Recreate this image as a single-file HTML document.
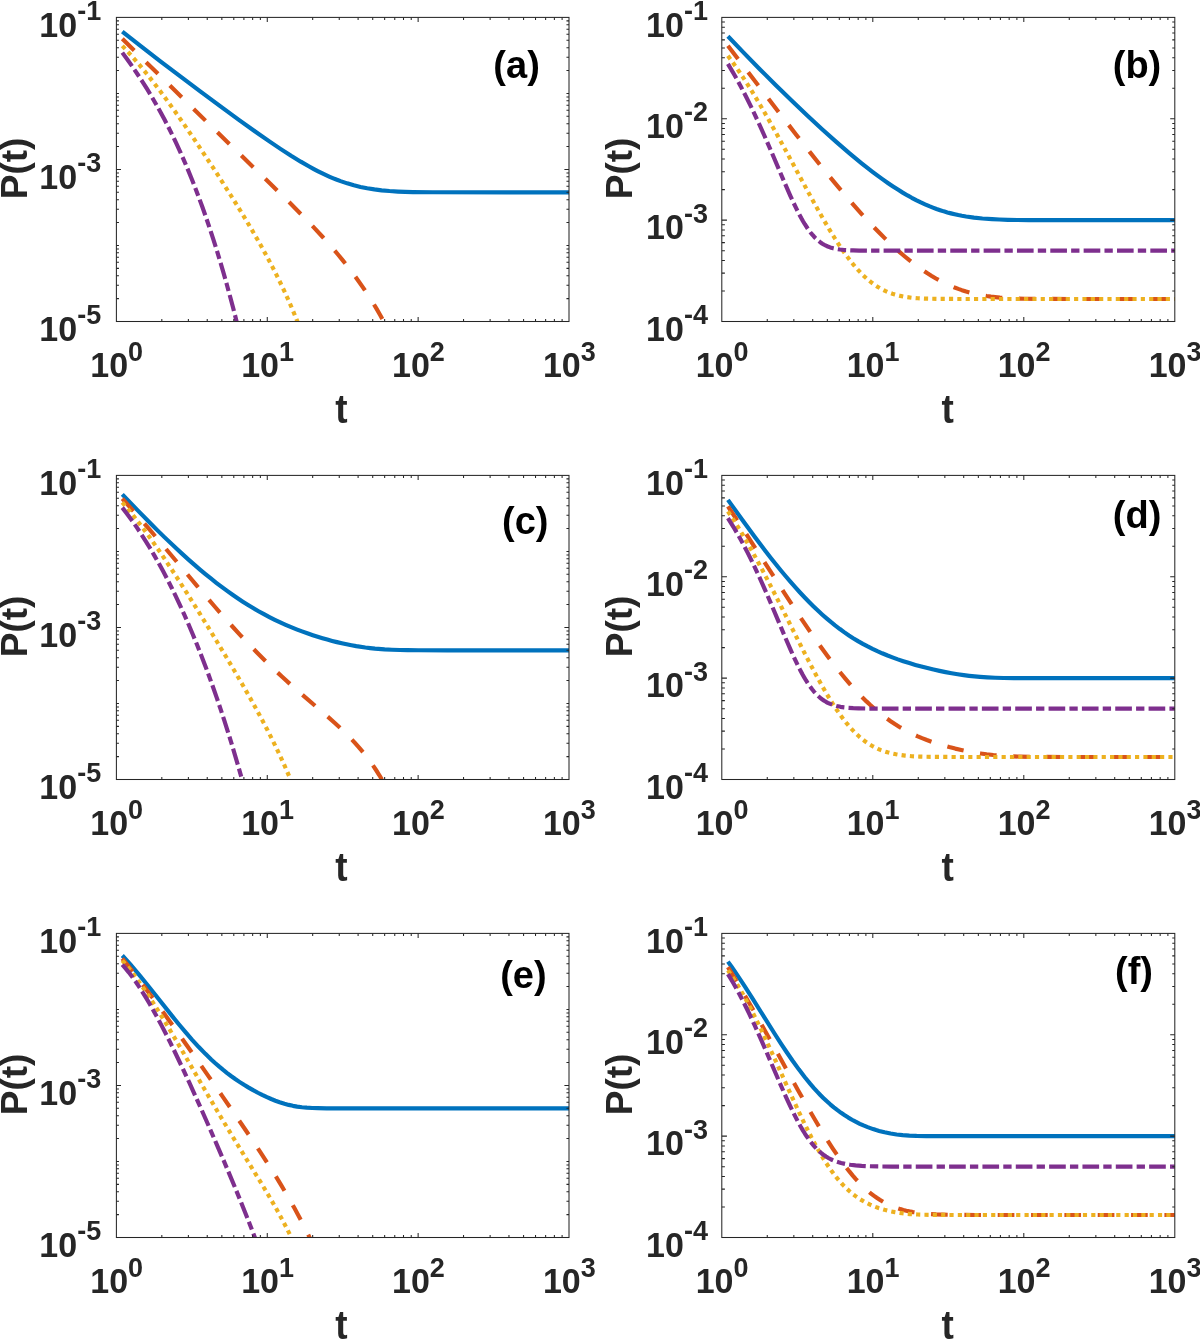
<!DOCTYPE html>
<html lang="en"><head><meta charset="utf-8"><title>P(t)</title>
<style>html,body{margin:0;padding:0;background:#fff}svg{display:block}text{font-family:"Liberation Sans",Arial,Helvetica,sans-serif;font-weight:bold;fill:#262626}.tk{font-size:34px}.sp{font-size:27px}.lb{font-size:37px}.pn{font-size:38px;fill:#000}.ax{stroke:#262626;stroke-width:1.04;fill:none}.cv{fill:none;stroke-width:4.17;stroke-linejoin:round}</style></head><body>
<svg width="1200" height="1339" viewBox="0 0 1200 1339">
<rect width="1200" height="1339" fill="#fff"/>
<defs>
<clipPath id="c00"><rect x="116.4" y="17.4" width="453.1" height="304.6"/></clipPath>
<clipPath id="c01"><rect x="721.8" y="17.4" width="453.5" height="304.6"/></clipPath>
<clipPath id="c10"><rect x="116.4" y="475.4" width="453.1" height="304.6"/></clipPath>
<clipPath id="c11"><rect x="721.8" y="475.4" width="453.5" height="304.6"/></clipPath>
<clipPath id="c20"><rect x="116.4" y="933.4" width="453.1" height="304.6"/></clipPath>
<clipPath id="c21"><rect x="721.8" y="933.4" width="453.5" height="304.6"/></clipPath>
</defs>
<g clip-path="url(#c00)">
<path class="cv" d="M122.3 31.64L141.44 46.64L160.75 61.55L180.67 76.71L200.58 91.67L220.5 106.43L239.21 120.08L255.5 131.72L269.38 141.39L280.84 149.11L291.1 155.74L300.76 161.66L309.21 166.53L313.43 168.84L317.66 171.05L321.88 173.16L325.5 174.88L329.73 176.78L333.35 178.32L336.97 179.77L340.59 181.12L347.23 183.36L353.86 185.3L360.5 186.92L367.14 188.27L374.38 189.43L381.62 190.33L389.47 191.04L397.92 191.56L405.16 191.86L413 192.07L432.92 192.28L569 192.34" stroke="#0072BD"/>
<path class="cv" d="M122.3 38.82L143.25 59.34L207.22 122.31L229.55 144.1L270.59 183.94L289.29 202.34L301.97 215.11L312.83 226.38L322.48 236.78L331.54 246.95L337.57 254.02L343 260.62L348.43 267.48L353.26 273.82L358.09 280.43L362.92 287.34L367.74 294.58L371.97 301.21L376.19 308.16L380.42 315.44L384.64 323.11L388.26 330L391.88 337.22L395.5 344.78L397.92 350.04L403.35 362.19" stroke="#D95319" stroke-dasharray="16.67 16.67"/>
<path class="cv" d="M122.3 45.84L128.17 52.06L134.2 58.8L140.24 65.85L146.88 73.96L153.51 82.38L160.15 91.1L167.39 100.9L175.24 111.82L183.69 123.88L192.74 137.09L202.39 151.47L212.05 166.11L221.7 181.02L230.76 195.25L239.21 208.81L247.05 221.72L252.48 230.89L257.91 240.29L262.74 248.87L267.57 257.71L272.4 266.86L276.62 275.16L280.84 283.78L284.47 291.44L288.09 299.41L291.71 307.7L295.33 316.36L298.95 325.42L301.97 333.32L304.98 341.56L308 350.17L312.22 362.61" stroke="#EDB120" stroke-dasharray="4.17 4.17"/>
<path class="cv" d="M122.3 52.63L127.56 59.83L132.39 66.66L137.22 73.74L142.05 81.08L146.88 88.73L151.1 95.68L155.93 103.94L160.15 111.48L164.38 119.33L168.6 127.51L172.82 136.02L176.44 143.62L180.67 152.83L184.29 161.05L187.91 169.58L191.53 178.43L195.15 187.62L198.77 197.16L202.39 207.07L206.01 217.36L209.64 228.04L213.26 239.13L216.88 250.64L219.89 260.56L223.52 272.89L226.53 283.51L230.15 296.7L233.17 308.06L236.79 322.16L239.81 334.3L246.45 362.19" stroke="#7E2F8E" stroke-dasharray="16.67 4.17 8.33 4.17"/>
</g>
<path class="ax" d="M161.82 321.5v-2.55M161.82 17.4v2.55M188.38 321.5v-2.55M188.38 17.4v2.55M207.23 321.5v-2.55M207.23 17.4v2.55M221.85 321.5v-2.55M221.85 17.4v2.55M233.8 321.5v-2.55M233.8 17.4v2.55M243.9 321.5v-2.55M243.9 17.4v2.55M252.65 321.5v-2.55M252.65 17.4v2.55M260.36 321.5v-2.55M260.36 17.4v2.55M267.27 321.5v-4.6M267.27 17.4v4.6M312.68 321.5v-2.55M312.68 17.4v2.55M339.25 321.5v-2.55M339.25 17.4v2.55M358.1 321.5v-2.55M358.1 17.4v2.55M372.72 321.5v-2.55M372.72 17.4v2.55M384.66 321.5v-2.55M384.66 17.4v2.55M394.76 321.5v-2.55M394.76 17.4v2.55M403.51 321.5v-2.55M403.51 17.4v2.55M411.23 321.5v-2.55M411.23 17.4v2.55M418.13 321.5v-4.6M418.13 17.4v4.6M463.55 321.5v-2.55M463.55 17.4v2.55M490.12 321.5v-2.55M490.12 17.4v2.55M508.96 321.5v-2.55M508.96 17.4v2.55M523.58 321.5v-2.55M523.58 17.4v2.55M535.53 321.5v-2.55M535.53 17.4v2.55M545.63 321.5v-2.55M545.63 17.4v2.55M554.38 321.5v-2.55M554.38 17.4v2.55M562.1 321.5v-2.55M562.1 17.4v2.55M116.4 298.61h2.55M569 298.61h-2.55M116.4 285.23h2.55M569 285.23h-2.55M116.4 275.73h2.55M569 275.73h-2.55M116.4 268.36h2.55M569 268.36h-2.55M116.4 262.34h2.55M569 262.34h-2.55M116.4 257.25h2.55M569 257.25h-2.55M116.4 252.84h2.55M569 252.84h-2.55M116.4 248.95h2.55M569 248.95h-2.55M116.4 245.48h2.55M569 245.48h-2.55M116.4 222.59h2.55M569 222.59h-2.55M116.4 209.2h2.55M569 209.2h-2.55M116.4 199.7h2.55M569 199.7h-2.55M116.4 192.34h2.55M569 192.34h-2.55M116.4 186.32h2.55M569 186.32h-2.55M116.4 181.23h2.55M569 181.23h-2.55M116.4 176.82h2.55M569 176.82h-2.55M116.4 172.93h2.55M569 172.93h-2.55M116.4 169.45h4.6M569 169.45h-4.6M116.4 146.56h2.55M569 146.56h-2.55M116.4 133.18h2.55M569 133.18h-2.55M116.4 123.68h2.55M569 123.68h-2.55M116.4 116.31h2.55M569 116.31h-2.55M116.4 110.29h2.55M569 110.29h-2.55M116.4 105.2h2.55M569 105.2h-2.55M116.4 100.79h2.55M569 100.79h-2.55M116.4 96.9h2.55M569 96.9h-2.55M116.4 93.43h2.55M569 93.43h-2.55M116.4 70.54h2.55M569 70.54h-2.55M116.4 57.15h2.55M569 57.15h-2.55M116.4 47.65h2.55M569 47.65h-2.55M116.4 40.29h2.55M569 40.29h-2.55M116.4 34.27h2.55M569 34.27h-2.55M116.4 29.18h2.55M569 29.18h-2.55M116.4 24.77h2.55M569 24.77h-2.55M116.4 20.88h2.55M569 20.88h-2.55"/>
<rect class="ax" x="116.4" y="17.4" width="452.6" height="304.1"/>
<text class="tk" transform="translate(116.7 377.4) scale(1 1.05)" text-anchor="middle">10<tspan class="sp" dy="-16">0</tspan></text>
<text class="tk" transform="translate(267.57 377.4) scale(1 1.05)" text-anchor="middle">10<tspan class="sp" dy="-16">1</tspan></text>
<text class="tk" transform="translate(418.43 377.4) scale(1 1.05)" text-anchor="middle">10<tspan class="sp" dy="-16">2</tspan></text>
<text class="tk" transform="translate(569.3 377.4) scale(1 1.05)" text-anchor="middle">10<tspan class="sp" dy="-16">3</tspan></text>
<text class="tk" transform="translate(101.2 36.7) scale(1 1.05)" text-anchor="end">10<tspan class="sp" dy="-16">-1</tspan></text>
<text class="tk" transform="translate(101.2 188.75) scale(1 1.05)" text-anchor="end">10<tspan class="sp" dy="-16">-3</tspan></text>
<text class="tk" transform="translate(101.2 340.8) scale(1 1.05)" text-anchor="end">10<tspan class="sp" dy="-16">-5</tspan></text>
<text class="lb" transform="translate(341.5 422.6) scale(1 1.1)" text-anchor="middle">t</text>
<text class="lb" transform="translate(26.6 168.45) rotate(-90)" text-anchor="middle">P(t)</text>
<text class="pn" x="516.6" y="78.3" text-anchor="middle">(a)</text>
<g clip-path="url(#c01)">
<path class="cv" d="M727.92 36.2L743.85 52.88L759.55 68.94L775.86 85.24L791.56 100.56L807.27 115.48L822.37 129.43L836.26 141.86L842.9 147.64L849.55 153.31L855.59 158.35L861.63 163.28L867.06 167.6L872.5 171.81L877.93 175.9L882.77 179.42L888.2 183.24L893.03 186.5L897.87 189.62L902.7 192.61L907.53 195.44L911.76 197.79L916.59 200.33L920.82 202.41L925.05 204.35L929.27 206.17L932.9 207.61L936.52 208.96L940.15 210.21L943.77 211.37L947.39 212.43L951.02 213.39L954.64 214.27L958.27 215.07L961.89 215.78L966.12 216.51L973.97 217.62L982.43 218.51L992.09 219.19L999.34 219.54L1007.79 219.8L1017.46 219.97L1028.93 220.07L1059.74 220.13L1174.8 220.13" stroke="#0072BD"/>
<path class="cv" d="M727.92 45.78L780.69 114.71L796.39 134.97L809.68 151.88L822.97 168.48L835.65 183.94L847.73 198.23L858.61 210.64L864.04 216.65L869.48 222.53L874.91 228.26L880.35 233.82L885.18 238.62L890.01 243.27L894.85 247.76L899.68 252.09L904.51 256.24L909.34 260.21L914.17 263.99L918.4 267.13L923.23 270.54L927.46 273.35L931.69 275.99L935.92 278.48L939.54 280.48L943.17 282.35L946.79 284.11L951.02 286L954.64 287.5L958.27 288.88L961.89 290.15L966.12 291.48L969.74 292.52L973.97 293.59L978.2 294.53L982.43 295.35L986.65 296.05L990.88 296.65L995.11 297.15L999.94 297.62L1007.19 298.15L1015.04 298.5L1024.71 298.74L1036.79 298.89L1070.01 299L1174.8 299.01" stroke="#D95319" stroke-dasharray="16.67 16.67"/>
<path class="cv" d="M727.92 55.8L731.77 60.99L735.99 66.94L739.62 72.22L743.85 78.58L748.07 85.16L752.3 91.93L756.53 98.87L760.76 105.99L769.21 120.64L778.27 136.86L787.33 153.45L807.87 191.48L813.91 202.49L818.74 211.15L824.18 220.66L829.61 229.86L834.45 237.72L838.67 244.31L841.69 248.82L844.71 253.16L847.73 257.32L850.15 260.5L853.17 264.29L855.59 267.17L858 269.91L860.42 272.51L862.83 274.96L865.25 277.26L867.67 279.42L870.69 281.91L873.1 283.74L875.52 285.43L877.93 286.99L880.95 288.75L882.77 289.71L885.18 290.89L887.6 291.95L890.01 292.9L892.43 293.75L894.85 294.51L897.26 295.18L900.28 295.91L905.72 296.94L911.76 297.74L917.8 298.26L925.05 298.62L938.33 298.89L960.08 298.99L1174.8 299.01" stroke="#EDB120" stroke-dasharray="4.17 4.17"/>
<path class="cv" d="M727.92 63.94L731.16 69.33L734.18 74.52L737.2 79.9L740.83 86.57L746.87 98.25L749.89 104.33L753.51 111.84L759.55 124.82L765.59 138.34L771.63 152.28L784.31 182.06L790.35 195.82L793.37 202.4L796.39 208.7L798.81 213.48L801.23 218L803.04 221.2L804.85 224.23L807.87 228.86L810.89 232.95L812.1 234.43L813.91 236.49L815.12 237.76L816.93 239.5L818.74 241.06L820.55 242.45L822.37 243.67L824.18 244.74L825.99 245.68L827.8 246.49L830.22 247.39L833.24 248.28L836.26 248.95L839.88 249.53L844.11 249.98L848.34 250.26L853.17 250.45L859.21 250.56L886.99 250.65L1174.8 250.65" stroke="#7E2F8E" stroke-dasharray="16.67 4.17 8.33 4.17"/>
</g>
<path class="ax" d="M767.26 321.5v-2.55M767.26 17.4v2.55M793.85 321.5v-2.55M793.85 17.4v2.55M812.71 321.5v-2.55M812.71 17.4v2.55M827.34 321.5v-2.55M827.34 17.4v2.55M839.3 321.5v-2.55M839.3 17.4v2.55M849.41 321.5v-2.55M849.41 17.4v2.55M858.17 321.5v-2.55M858.17 17.4v2.55M865.89 321.5v-2.55M865.89 17.4v2.55M872.8 321.5v-4.6M872.8 17.4v4.6M918.26 321.5v-2.55M918.26 17.4v2.55M944.85 321.5v-2.55M944.85 17.4v2.55M963.71 321.5v-2.55M963.71 17.4v2.55M978.34 321.5v-2.55M978.34 17.4v2.55M990.3 321.5v-2.55M990.3 17.4v2.55M1000.41 321.5v-2.55M1000.41 17.4v2.55M1009.17 321.5v-2.55M1009.17 17.4v2.55M1016.89 321.5v-2.55M1016.89 17.4v2.55M1023.8 321.5v-4.6M1023.8 17.4v4.6M1069.26 321.5v-2.55M1069.26 17.4v2.55M1095.85 321.5v-2.55M1095.85 17.4v2.55M1114.71 321.5v-2.55M1114.71 17.4v2.55M1129.34 321.5v-2.55M1129.34 17.4v2.55M1141.3 321.5v-2.55M1141.3 17.4v2.55M1151.41 321.5v-2.55M1151.41 17.4v2.55M1160.17 321.5v-2.55M1160.17 17.4v2.55M1167.89 321.5v-2.55M1167.89 17.4v2.55M721.8 290.99h3.1M1174.8 290.99h-2.55M721.8 273.14h3.1M1174.8 273.14h-2.55M721.8 260.47h3.1M1174.8 260.47h-2.55M721.8 250.65h3.1M1174.8 250.65h-2.55M721.8 242.62h3.1M1174.8 242.62h-2.55M721.8 235.84h3.1M1174.8 235.84h-2.55M721.8 229.96h3.1M1174.8 229.96h-2.55M721.8 224.77h3.1M1174.8 224.77h-2.55M721.8 220.13h5.15M1174.8 220.13h-4.6M721.8 189.62h3.1M1174.8 189.62h-2.55M721.8 171.77h3.1M1174.8 171.77h-2.55M721.8 159.1h3.1M1174.8 159.1h-2.55M721.8 149.28h3.1M1174.8 149.28h-2.55M721.8 141.25h3.1M1174.8 141.25h-2.55M721.8 134.47h3.1M1174.8 134.47h-2.55M721.8 128.59h3.1M1174.8 128.59h-2.55M721.8 123.4h3.1M1174.8 123.4h-2.55M721.8 118.77h5.15M1174.8 118.77h-4.6M721.8 88.25h3.1M1174.8 88.25h-2.55M721.8 70.4h3.1M1174.8 70.4h-2.55M721.8 57.74h3.1M1174.8 57.74h-2.55M721.8 47.91h3.1M1174.8 47.91h-2.55M721.8 39.89h3.1M1174.8 39.89h-2.55M721.8 33.1h3.1M1174.8 33.1h-2.55M721.8 27.22h3.1M1174.8 27.22h-2.55M721.8 22.04h3.1M1174.8 22.04h-2.55"/>
<rect class="ax" x="721.8" y="17.4" width="453" height="304.1"/>
<text class="tk" transform="translate(722.1 377.4) scale(1 1.05)" text-anchor="middle">10<tspan class="sp" dy="-16">0</tspan></text>
<text class="tk" transform="translate(873.1 377.4) scale(1 1.05)" text-anchor="middle">10<tspan class="sp" dy="-16">1</tspan></text>
<text class="tk" transform="translate(1024.1 377.4) scale(1 1.05)" text-anchor="middle">10<tspan class="sp" dy="-16">2</tspan></text>
<text class="tk" transform="translate(1175.1 377.4) scale(1 1.05)" text-anchor="middle">10<tspan class="sp" dy="-16">3</tspan></text>
<text class="tk" transform="translate(707.9 36.7) scale(1 1.05)" text-anchor="end">10<tspan class="sp" dy="-16">-1</tspan></text>
<text class="tk" transform="translate(707.9 138.07) scale(1 1.05)" text-anchor="end">10<tspan class="sp" dy="-16">-2</tspan></text>
<text class="tk" transform="translate(707.9 239.43) scale(1 1.05)" text-anchor="end">10<tspan class="sp" dy="-16">-3</tspan></text>
<text class="tk" transform="translate(707.9 340.8) scale(1 1.05)" text-anchor="end">10<tspan class="sp" dy="-16">-4</tspan></text>
<text class="lb" transform="translate(947.7 422.6) scale(1 1.1)" text-anchor="middle">t</text>
<text class="lb" transform="translate(632 168.45) rotate(-90)" text-anchor="middle">P(t)</text>
<text class="pn" x="1137" y="78.3" text-anchor="middle">(b)</text>
<g clip-path="url(#c10)">
<path class="cv" d="M122.3 494.32L137.22 509.91L151.1 524.03L157.74 530.63L164.38 537.12L176.44 548.59L182.48 554.15L188.51 559.59L194.55 564.89L199.98 569.55L205.41 574.08L210.84 578.49L216.27 582.77L221.7 586.91L227.14 590.92L232.57 594.78L238 598.49L242.83 601.67L247.65 604.73L253.09 608.03L258.52 611.18L263.95 614.19L269.38 617.05L274.81 619.77L280.24 622.35L285.67 624.8L291.1 627.12L296.53 629.32L301.97 631.4L308 633.57L312.83 635.21L317.66 636.76L322.48 638.23L327.31 639.61L332.14 640.91L336.97 642.12L341.79 643.25L346.62 644.29L351.45 645.24L356.28 646.1L365.33 647.46L370.16 648.06L374.99 648.57L384.64 649.35L391.88 649.74L399.73 650.02L407.57 650.18L418.44 650.28L447.4 650.33L569 650.34" stroke="#0072BD"/>
<path class="cv" d="M122.3 498.63L128.77 505.78L135.41 513.25L149.89 529.94L163.77 546.3L196.96 585.81L206.01 596.45L214.46 606.25L223.52 616.57L231.96 626L239.81 634.56L247.65 642.91L256.71 652.26L265.15 660.7L273.6 668.87L282.66 677.33L290.5 684.43L298.35 691.36L328.52 717.36L334.55 722.74L339.98 727.74L345.42 732.96L350.24 737.83L354.47 742.31L358.69 747.04L361.71 750.59L364.73 754.3L367.74 758.2L370.76 762.3L373.78 766.62L376.19 770.25L379.21 775.02L381.62 779.04L384.04 783.26L386.45 787.69L388.87 792.35L391.28 797.24L393.69 802.39L395.5 806.43L401.54 820.55" stroke="#D95319" stroke-dasharray="16.67 16.67"/>
<path class="cv" d="M122.3 502.39L128.17 509.28L133.6 515.97L139.03 522.94L145.06 530.98L151.1 539.31L157.74 548.77L164.38 558.49L171.01 568.45L178.86 580.49L187.31 593.71L196.36 608.11L206.01 623.71L216.27 640.49L225.93 656.51L234.98 671.75L242.83 685.2L248.26 694.69L253.69 704.36L258.52 713.15L263.34 722.16L267.57 730.26L271.79 738.59L276.02 747.2L279.64 754.83L283.26 762.72L286.88 770.9L290.5 779.43L293.52 786.81L296.53 794.48L299.55 802.46L306.19 820.93" stroke="#EDB120" stroke-dasharray="4.17 4.17"/>
<path class="cv" d="M122.3 507.62L126.96 513.67L131.79 520.26L136.62 527.17L140.84 533.49L145.67 541.03L149.89 547.92L154.12 555.07L158.34 562.51L163.17 571.35L167.39 579.4L171.62 587.74L175.84 596.39L180.07 605.35L184.29 614.63L188.51 624.25L192.74 634.2L196.96 644.5L201.19 655.16L205.41 666.2L209.03 675.97L213.26 687.73L216.88 698.13L220.5 708.85L224.12 719.89L227.74 731.26L231.36 742.97L234.98 755.03L238.6 767.46L242.22 780.27L245.84 793.47L253.09 820.97" stroke="#7E2F8E" stroke-dasharray="16.67 4.17 8.33 4.17"/>
</g>
<path class="ax" d="M161.82 779.5v-2.55M161.82 475.4v2.55M188.38 779.5v-2.55M188.38 475.4v2.55M207.23 779.5v-2.55M207.23 475.4v2.55M221.85 779.5v-2.55M221.85 475.4v2.55M233.8 779.5v-2.55M233.8 475.4v2.55M243.9 779.5v-2.55M243.9 475.4v2.55M252.65 779.5v-2.55M252.65 475.4v2.55M260.36 779.5v-2.55M260.36 475.4v2.55M267.27 779.5v-4.6M267.27 475.4v4.6M312.68 779.5v-2.55M312.68 475.4v2.55M339.25 779.5v-2.55M339.25 475.4v2.55M358.1 779.5v-2.55M358.1 475.4v2.55M372.72 779.5v-2.55M372.72 475.4v2.55M384.66 779.5v-2.55M384.66 475.4v2.55M394.76 779.5v-2.55M394.76 475.4v2.55M403.51 779.5v-2.55M403.51 475.4v2.55M411.23 779.5v-2.55M411.23 475.4v2.55M418.13 779.5v-4.6M418.13 475.4v4.6M463.55 779.5v-2.55M463.55 475.4v2.55M490.12 779.5v-2.55M490.12 475.4v2.55M508.96 779.5v-2.55M508.96 475.4v2.55M523.58 779.5v-2.55M523.58 475.4v2.55M535.53 779.5v-2.55M535.53 475.4v2.55M545.63 779.5v-2.55M545.63 475.4v2.55M554.38 779.5v-2.55M554.38 475.4v2.55M562.1 779.5v-2.55M562.1 475.4v2.55M116.4 756.61h2.55M569 756.61h-2.55M116.4 743.23h2.55M569 743.23h-2.55M116.4 733.73h2.55M569 733.73h-2.55M116.4 726.36h2.55M569 726.36h-2.55M116.4 720.34h2.55M569 720.34h-2.55M116.4 715.25h2.55M569 715.25h-2.55M116.4 710.84h2.55M569 710.84h-2.55M116.4 706.95h2.55M569 706.95h-2.55M116.4 703.48h2.55M569 703.48h-2.55M116.4 680.59h2.55M569 680.59h-2.55M116.4 667.2h2.55M569 667.2h-2.55M116.4 657.7h2.55M569 657.7h-2.55M116.4 650.34h2.55M569 650.34h-2.55M116.4 644.32h2.55M569 644.32h-2.55M116.4 639.23h2.55M569 639.23h-2.55M116.4 634.82h2.55M569 634.82h-2.55M116.4 630.93h2.55M569 630.93h-2.55M116.4 627.45h4.6M569 627.45h-4.6M116.4 604.56h2.55M569 604.56h-2.55M116.4 591.18h2.55M569 591.18h-2.55M116.4 581.68h2.55M569 581.68h-2.55M116.4 574.31h2.55M569 574.31h-2.55M116.4 568.29h2.55M569 568.29h-2.55M116.4 563.2h2.55M569 563.2h-2.55M116.4 558.79h2.55M569 558.79h-2.55M116.4 554.9h2.55M569 554.9h-2.55M116.4 551.42h2.55M569 551.42h-2.55M116.4 528.54h2.55M569 528.54h-2.55M116.4 515.15h2.55M569 515.15h-2.55M116.4 505.65h2.55M569 505.65h-2.55M116.4 498.29h2.55M569 498.29h-2.55M116.4 492.27h2.55M569 492.27h-2.55M116.4 487.18h2.55M569 487.18h-2.55M116.4 482.77h2.55M569 482.77h-2.55M116.4 478.88h2.55M569 478.88h-2.55"/>
<rect class="ax" x="116.4" y="475.4" width="452.6" height="304.1"/>
<text class="tk" transform="translate(116.7 835.4) scale(1 1.05)" text-anchor="middle">10<tspan class="sp" dy="-16">0</tspan></text>
<text class="tk" transform="translate(267.57 835.4) scale(1 1.05)" text-anchor="middle">10<tspan class="sp" dy="-16">1</tspan></text>
<text class="tk" transform="translate(418.43 835.4) scale(1 1.05)" text-anchor="middle">10<tspan class="sp" dy="-16">2</tspan></text>
<text class="tk" transform="translate(569.3 835.4) scale(1 1.05)" text-anchor="middle">10<tspan class="sp" dy="-16">3</tspan></text>
<text class="tk" transform="translate(101.2 494.7) scale(1 1.05)" text-anchor="end">10<tspan class="sp" dy="-16">-1</tspan></text>
<text class="tk" transform="translate(101.2 646.75) scale(1 1.05)" text-anchor="end">10<tspan class="sp" dy="-16">-3</tspan></text>
<text class="tk" transform="translate(101.2 798.8) scale(1 1.05)" text-anchor="end">10<tspan class="sp" dy="-16">-5</tspan></text>
<text class="lb" transform="translate(341.5 880.6) scale(1 1.1)" text-anchor="middle">t</text>
<text class="lb" transform="translate(26.6 626.45) rotate(-90)" text-anchor="middle">P(t)</text>
<text class="pn" x="525.3" y="534.3" text-anchor="middle">(c)</text>
<g clip-path="url(#c11)">
<path class="cv" d="M727.92 499.84L742.03 519.56L754.11 536.03L760.15 544.08L765.59 551.2L771.03 558.18L775.86 564.26L780.69 570.2L785.52 576.01L790.35 581.67L795.19 587.17L800.02 592.49L804.25 597.01L809.08 601.99L813.31 606.2L818.14 610.81L822.37 614.69L826.59 618.4L830.82 621.96L835.05 625.36L839.88 629.05L844.11 632.11L848.94 635.42L853.17 638.16L858 641.11L862.83 643.87L867.67 646.46L872.5 648.89L877.33 651.17L882.16 653.3L887.6 655.54L892.43 657.4L897.87 659.37L903.3 661.2L909.34 663.11L915.38 664.88L921.42 666.54L927.46 668.09L933.5 669.54L939.54 670.89L945.58 672.13L951.62 673.26L957.66 674.27L963.7 675.16L969.14 675.85L974.57 676.44L980.01 676.92L987.26 677.4L995.11 677.75L1003.57 677.96L1013.83 678.08L1040.41 678.13L1174.8 678.13" stroke="#0072BD"/>
<path class="cv" d="M727.92 506.4L735.99 518.5L745.05 532.27L755.32 548.06L784.92 593.87L793.98 607.7L802.43 620.4L812.1 634.55L820.55 646.53L828.41 657.25L836.26 667.49L841.09 673.53L845.32 678.64L849.55 683.57L853.77 688.32L858 692.87L862.23 697.23L866.46 701.39L870.08 704.79L873.71 708.04L877.93 711.64L882.16 715.04L886.39 718.24L890.62 721.24L894.85 724.05L899.07 726.68L903.3 729.13L907.53 731.42L912.36 733.84L917.19 736.08L922.03 738.14L926.86 740.03L932.29 742L937.73 743.79L943.17 745.43L949.21 747.09L955.25 748.6L961.29 749.96L967.93 751.31L973.97 752.4L980.61 753.45L986.65 754.28L993.3 755.04L1001.75 755.8L1010.21 756.31L1019.87 756.64L1031.95 756.85L1065.78 756.99L1174.8 757.01" stroke="#D95319" stroke-dasharray="16.67 16.67"/>
<path class="cv" d="M727.92 511.32L731.16 516.2L734.79 521.84L738.41 527.66L742.03 533.65L749.28 546.12L757.13 560.28L764.38 573.84L772.84 590.14L781.29 606.81L800.62 645.31L806.06 655.96L810.89 665.27L816.33 675.48L821.16 684.25L825.99 692.68L830.22 699.71L833.24 704.52L835.65 708.22L838.67 712.66L841.09 716.05L844.11 720.08L846.53 723.14L849.55 726.73L851.96 729.43L854.38 731.97L856.79 734.34L859.21 736.56L862.23 739.12L864.65 740.99L867.67 743.13L870.08 744.68L873.1 746.43L875.52 747.69L877.93 748.83L880.35 749.85L882.77 750.78L885.18 751.61L887.6 752.34L890.01 753L893.03 753.71L896.05 754.32L899.07 754.84L905.11 755.63L911.76 756.21L919.61 756.59L925.65 756.76L933.5 756.88L956.45 756.99L1174.8 757.01" stroke="#EDB120" stroke-dasharray="4.17 4.17"/>
<path class="cv" d="M727.92 518.19L731.16 523.26L734.18 528.21L737.2 533.36L740.83 539.81L743.85 545.4L747.47 552.38L750.49 558.4L754.11 565.87L760.15 578.86L766.8 593.85L772.84 607.95L785.52 638.08L790.96 650.59L793.98 657.27L797 663.65L800.02 669.69L802.43 674.23L804.25 677.44L806.06 680.48L809.08 685.14L812.1 689.28L813.91 691.51L815.72 693.55L816.93 694.8L818.74 696.54L820.55 698.1L822.37 699.49L824.18 700.74L825.99 701.84L827.8 702.8L830.22 703.91L833.24 705.03L836.86 706.07L840.49 706.83L844.11 707.38L848.34 707.82L853.17 708.15L858.61 708.38L865.85 708.53L877.33 708.61L897.87 708.64L1174.8 708.65" stroke="#7E2F8E" stroke-dasharray="16.67 4.17 8.33 4.17"/>
</g>
<path class="ax" d="M767.26 779.5v-2.55M767.26 475.4v2.55M793.85 779.5v-2.55M793.85 475.4v2.55M812.71 779.5v-2.55M812.71 475.4v2.55M827.34 779.5v-2.55M827.34 475.4v2.55M839.3 779.5v-2.55M839.3 475.4v2.55M849.41 779.5v-2.55M849.41 475.4v2.55M858.17 779.5v-2.55M858.17 475.4v2.55M865.89 779.5v-2.55M865.89 475.4v2.55M872.8 779.5v-4.6M872.8 475.4v4.6M918.26 779.5v-2.55M918.26 475.4v2.55M944.85 779.5v-2.55M944.85 475.4v2.55M963.71 779.5v-2.55M963.71 475.4v2.55M978.34 779.5v-2.55M978.34 475.4v2.55M990.3 779.5v-2.55M990.3 475.4v2.55M1000.41 779.5v-2.55M1000.41 475.4v2.55M1009.17 779.5v-2.55M1009.17 475.4v2.55M1016.89 779.5v-2.55M1016.89 475.4v2.55M1023.8 779.5v-4.6M1023.8 475.4v4.6M1069.26 779.5v-2.55M1069.26 475.4v2.55M1095.85 779.5v-2.55M1095.85 475.4v2.55M1114.71 779.5v-2.55M1114.71 475.4v2.55M1129.34 779.5v-2.55M1129.34 475.4v2.55M1141.3 779.5v-2.55M1141.3 475.4v2.55M1151.41 779.5v-2.55M1151.41 475.4v2.55M1160.17 779.5v-2.55M1160.17 475.4v2.55M1167.89 779.5v-2.55M1167.89 475.4v2.55M721.8 748.99h3.1M1174.8 748.99h-2.55M721.8 731.14h3.1M1174.8 731.14h-2.55M721.8 718.47h3.1M1174.8 718.47h-2.55M721.8 708.65h3.1M1174.8 708.65h-2.55M721.8 700.62h3.1M1174.8 700.62h-2.55M721.8 693.84h3.1M1174.8 693.84h-2.55M721.8 687.96h3.1M1174.8 687.96h-2.55M721.8 682.77h3.1M1174.8 682.77h-2.55M721.8 678.13h5.15M1174.8 678.13h-4.6M721.8 647.62h3.1M1174.8 647.62h-2.55M721.8 629.77h3.1M1174.8 629.77h-2.55M721.8 617.1h3.1M1174.8 617.1h-2.55M721.8 607.28h3.1M1174.8 607.28h-2.55M721.8 599.25h3.1M1174.8 599.25h-2.55M721.8 592.47h3.1M1174.8 592.47h-2.55M721.8 586.59h3.1M1174.8 586.59h-2.55M721.8 581.4h3.1M1174.8 581.4h-2.55M721.8 576.77h5.15M1174.8 576.77h-4.6M721.8 546.25h3.1M1174.8 546.25h-2.55M721.8 528.4h3.1M1174.8 528.4h-2.55M721.8 515.74h3.1M1174.8 515.74h-2.55M721.8 505.91h3.1M1174.8 505.91h-2.55M721.8 497.89h3.1M1174.8 497.89h-2.55M721.8 491.1h3.1M1174.8 491.1h-2.55M721.8 485.22h3.1M1174.8 485.22h-2.55M721.8 480.04h3.1M1174.8 480.04h-2.55"/>
<rect class="ax" x="721.8" y="475.4" width="453" height="304.1"/>
<text class="tk" transform="translate(722.1 835.4) scale(1 1.05)" text-anchor="middle">10<tspan class="sp" dy="-16">0</tspan></text>
<text class="tk" transform="translate(873.1 835.4) scale(1 1.05)" text-anchor="middle">10<tspan class="sp" dy="-16">1</tspan></text>
<text class="tk" transform="translate(1024.1 835.4) scale(1 1.05)" text-anchor="middle">10<tspan class="sp" dy="-16">2</tspan></text>
<text class="tk" transform="translate(1175.1 835.4) scale(1 1.05)" text-anchor="middle">10<tspan class="sp" dy="-16">3</tspan></text>
<text class="tk" transform="translate(707.9 494.7) scale(1 1.05)" text-anchor="end">10<tspan class="sp" dy="-16">-1</tspan></text>
<text class="tk" transform="translate(707.9 596.07) scale(1 1.05)" text-anchor="end">10<tspan class="sp" dy="-16">-2</tspan></text>
<text class="tk" transform="translate(707.9 697.43) scale(1 1.05)" text-anchor="end">10<tspan class="sp" dy="-16">-3</tspan></text>
<text class="tk" transform="translate(707.9 798.8) scale(1 1.05)" text-anchor="end">10<tspan class="sp" dy="-16">-4</tspan></text>
<text class="lb" transform="translate(947.7 880.6) scale(1 1.1)" text-anchor="middle">t</text>
<text class="lb" transform="translate(632 626.45) rotate(-90)" text-anchor="middle">P(t)</text>
<text class="pn" x="1137.1" y="527.8" text-anchor="middle">(d)</text>
<g clip-path="url(#c20)">
<path class="cv" d="M122.3 955.47L126.36 959.88L130.58 964.65L135.41 970.28L140.24 976.07L149.29 987.25L172.82 1016.9L179.46 1025.03L185.5 1032.21L192.14 1039.81L198.77 1047.04L205.41 1053.87L211.45 1059.69L215.07 1063L219.29 1066.69L222.91 1069.71L227.14 1073.06L231.36 1076.24L235.58 1079.26L239.81 1082.11L244.03 1084.82L248.26 1087.39L253.09 1090.16L257.91 1092.76L262.14 1094.89L266.96 1097.17L271.19 1099.01L275.41 1100.7L279.64 1102.23L284.47 1103.76L288.69 1104.89L292.91 1105.84L297.14 1106.6L301.97 1107.25L306.79 1107.7L312.22 1108.02L317.66 1108.19L326.71 1108.3L342.4 1108.33L569 1108.34" stroke="#0072BD"/>
<path class="cv" d="M122.3 958.46L128.77 966.58L135.41 975.08L142.05 983.76L149.29 993.39L157.13 1003.99L164.98 1014.75L182.48 1039.18L194.55 1056.28L208.43 1076.1L222.31 1096.07L234.38 1113.58L244.03 1127.73L252.48 1140.28L260.33 1152.13L266.96 1162.36L271.79 1169.96L276.62 1177.7L281.45 1185.64L285.67 1192.75L289.9 1200.06L294.12 1207.58L297.74 1214.23L301.36 1221.08L304.98 1228.15L308 1234.24L311.62 1241.8L314.64 1248.33L317.66 1255.08L320.67 1262.08L327.31 1278.18" stroke="#D95319" stroke-dasharray="16.67 16.67"/>
<path class="cv" d="M122.3 960.48L126.36 965.27L130.58 970.55L134.81 976.09L139.63 982.73L144.46 989.67L149.29 996.87L154.12 1004.31L159.55 1012.93L167.39 1025.75L175.84 1039.95L184.29 1054.4L207.83 1094.98L222.31 1119.53L236.19 1142.48L260.93 1182.68L266.36 1191.68L270.59 1198.81L276.62 1209.33L282.05 1219.22L286.88 1228.47L291.71 1238.27L295.93 1247.4L300.16 1257.13L303.17 1264.52L308.6 1278.47" stroke="#EDB120" stroke-dasharray="4.17 4.17"/>
<path class="cv" d="M122.3 964.62L125.75 968.61L128.77 972.35L131.79 976.31L135.41 981.36L139.03 986.69L142.65 992.31L146.27 998.19L149.89 1004.31L153.51 1010.66L157.74 1018.34L161.36 1025.14L165.58 1033.3L169.81 1041.68L174.03 1050.26L183.08 1069.23L189.12 1082.24L195.15 1095.5L201.79 1110.32L209.03 1126.72L216.27 1143.34L223.52 1160.19L230.15 1175.87L236.19 1190.36L241.02 1202.16L245.84 1214.2L250.07 1224.96L254.29 1235.99L257.91 1245.7L261.53 1255.67L264.55 1264.23L269.38 1278.25" stroke="#7E2F8E" stroke-dasharray="16.67 4.17 8.33 4.17"/>
</g>
<path class="ax" d="M161.82 1237.5v-2.55M161.82 933.4v2.55M188.38 1237.5v-2.55M188.38 933.4v2.55M207.23 1237.5v-2.55M207.23 933.4v2.55M221.85 1237.5v-2.55M221.85 933.4v2.55M233.8 1237.5v-2.55M233.8 933.4v2.55M243.9 1237.5v-2.55M243.9 933.4v2.55M252.65 1237.5v-2.55M252.65 933.4v2.55M260.36 1237.5v-2.55M260.36 933.4v2.55M267.27 1237.5v-4.6M267.27 933.4v4.6M312.68 1237.5v-2.55M312.68 933.4v2.55M339.25 1237.5v-2.55M339.25 933.4v2.55M358.1 1237.5v-2.55M358.1 933.4v2.55M372.72 1237.5v-2.55M372.72 933.4v2.55M384.66 1237.5v-2.55M384.66 933.4v2.55M394.76 1237.5v-2.55M394.76 933.4v2.55M403.51 1237.5v-2.55M403.51 933.4v2.55M411.23 1237.5v-2.55M411.23 933.4v2.55M418.13 1237.5v-4.6M418.13 933.4v4.6M463.55 1237.5v-2.55M463.55 933.4v2.55M490.12 1237.5v-2.55M490.12 933.4v2.55M508.96 1237.5v-2.55M508.96 933.4v2.55M523.58 1237.5v-2.55M523.58 933.4v2.55M535.53 1237.5v-2.55M535.53 933.4v2.55M545.63 1237.5v-2.55M545.63 933.4v2.55M554.38 1237.5v-2.55M554.38 933.4v2.55M562.1 1237.5v-2.55M562.1 933.4v2.55M116.4 1214.61h2.55M569 1214.61h-2.55M116.4 1201.23h2.55M569 1201.23h-2.55M116.4 1191.73h2.55M569 1191.73h-2.55M116.4 1184.36h2.55M569 1184.36h-2.55M116.4 1178.34h2.55M569 1178.34h-2.55M116.4 1173.25h2.55M569 1173.25h-2.55M116.4 1168.84h2.55M569 1168.84h-2.55M116.4 1164.95h2.55M569 1164.95h-2.55M116.4 1161.47h2.55M569 1161.47h-2.55M116.4 1138.59h2.55M569 1138.59h-2.55M116.4 1125.2h2.55M569 1125.2h-2.55M116.4 1115.7h2.55M569 1115.7h-2.55M116.4 1108.34h2.55M569 1108.34h-2.55M116.4 1102.32h2.55M569 1102.32h-2.55M116.4 1097.23h2.55M569 1097.23h-2.55M116.4 1092.82h2.55M569 1092.82h-2.55M116.4 1088.93h2.55M569 1088.93h-2.55M116.4 1085.45h4.6M569 1085.45h-4.6M116.4 1062.56h2.55M569 1062.56h-2.55M116.4 1049.18h2.55M569 1049.18h-2.55M116.4 1039.68h2.55M569 1039.68h-2.55M116.4 1032.31h2.55M569 1032.31h-2.55M116.4 1026.29h2.55M569 1026.29h-2.55M116.4 1021.2h2.55M569 1021.2h-2.55M116.4 1016.79h2.55M569 1016.79h-2.55M116.4 1012.9h2.55M569 1012.9h-2.55M116.4 1009.42h2.55M569 1009.42h-2.55M116.4 986.54h2.55M569 986.54h-2.55M116.4 973.15h2.55M569 973.15h-2.55M116.4 963.65h2.55M569 963.65h-2.55M116.4 956.29h2.55M569 956.29h-2.55M116.4 950.27h2.55M569 950.27h-2.55M116.4 945.18h2.55M569 945.18h-2.55M116.4 940.77h2.55M569 940.77h-2.55M116.4 936.88h2.55M569 936.88h-2.55"/>
<rect class="ax" x="116.4" y="933.4" width="452.6" height="304.1"/>
<text class="tk" transform="translate(116.7 1293.4) scale(1 1.05)" text-anchor="middle">10<tspan class="sp" dy="-16">0</tspan></text>
<text class="tk" transform="translate(267.57 1293.4) scale(1 1.05)" text-anchor="middle">10<tspan class="sp" dy="-16">1</tspan></text>
<text class="tk" transform="translate(418.43 1293.4) scale(1 1.05)" text-anchor="middle">10<tspan class="sp" dy="-16">2</tspan></text>
<text class="tk" transform="translate(569.3 1293.4) scale(1 1.05)" text-anchor="middle">10<tspan class="sp" dy="-16">3</tspan></text>
<text class="tk" transform="translate(101.2 952.7) scale(1 1.05)" text-anchor="end">10<tspan class="sp" dy="-16">-1</tspan></text>
<text class="tk" transform="translate(101.2 1104.75) scale(1 1.05)" text-anchor="end">10<tspan class="sp" dy="-16">-3</tspan></text>
<text class="tk" transform="translate(101.2 1256.8) scale(1 1.05)" text-anchor="end">10<tspan class="sp" dy="-16">-5</tspan></text>
<text class="lb" transform="translate(341.5 1338.6) scale(1 1.1)" text-anchor="middle">t</text>
<text class="lb" transform="translate(26.6 1084.45) rotate(-90)" text-anchor="middle">P(t)</text>
<text class="pn" x="523.4" y="988.3" text-anchor="middle">(e)</text>
<g clip-path="url(#c21)">
<path class="cv" d="M727.92 961.62L731.77 967.04L735.99 973.17L744.45 985.93L752.91 999.15L774.65 1033.74L781.29 1044.04L786.73 1052.23L792.77 1061L798.81 1069.35L804.85 1077.24L810.29 1083.88L813.91 1088.06L816.93 1091.39L820.55 1095.19L823.57 1098.19L826.59 1101.06L830.22 1104.3L833.84 1107.34L837.47 1110.18L841.09 1112.84L844.71 1115.31L848.34 1117.6L851.96 1119.72L855.59 1121.68L859.81 1123.78L863.44 1125.42L867.67 1127.15L873.1 1129.11L876.12 1130.08L879.14 1130.95L884.58 1132.32L890.62 1133.54L896.66 1134.47L902.7 1135.13L909.34 1135.61L916.59 1135.91L926.25 1136.07L943.17 1136.13L1174.8 1136.13" stroke="#0072BD"/>
<path class="cv" d="M727.92 967.2L734.18 977.44L740.83 988.55L748.07 1000.93L755.32 1013.55L768.61 1037.15L797.6 1089.39L804.25 1101.18L810.29 1111.74L816.33 1122.07L822.37 1132.1L827.8 1140.83L832.63 1148.3L836.26 1153.7L839.28 1158.04L842.9 1163.07L845.92 1167.09L849.55 1171.69L852.57 1175.34L855.59 1178.81L858.61 1182.09L861.63 1185.19L864.65 1188.09L867.67 1190.81L870.69 1193.33L873.71 1195.67L876.73 1197.82L879.75 1199.8L883.37 1201.95L885.79 1203.24L888.81 1204.73L891.22 1205.81L894.24 1207.04L897.26 1208.13L900.28 1209.11L903.3 1209.97L906.32 1210.73L909.34 1211.39L912.97 1212.08L919.61 1213.07L923.23 1213.48L927.46 1213.87L935.92 1214.39L942.56 1214.63L951.02 1214.81L975.18 1214.98L1174.8 1215.01" stroke="#D95319" stroke-dasharray="16.67 16.67"/>
<path class="cv" d="M727.92 970.33L731.16 974.99L734.18 979.59L737.2 984.43L740.22 989.49L743.24 994.77L746.87 1001.36L749.89 1007.05L753.51 1014.1L760.15 1027.57L767.4 1042.91L774.65 1058.71L792.17 1097.41L797 1107.86L801.83 1118.08L806.66 1127.97L811.49 1137.45L816.33 1146.45L820.55 1153.87L823.57 1158.89L825.99 1162.72L829.01 1167.28L831.43 1170.74L833.84 1174.02L836.26 1177.14L838.67 1180.08L841.69 1183.52L844.11 1186.08L847.13 1189.05L849.55 1191.26L852.57 1193.81L855.59 1196.13L858.61 1198.25L861.63 1200.17L864.65 1201.91L867.06 1203.18L870.08 1204.64L872.5 1205.7L875.52 1206.9L878.54 1207.99L881.56 1208.96L884.58 1209.83L888.2 1210.75L891.22 1211.43L894.85 1212.13L898.47 1212.73L902.09 1213.24L905.72 1213.66L909.95 1214.05L917.8 1214.52L923.84 1214.72L931.69 1214.86L954.04 1214.99L1174.8 1215.01" stroke="#EDB120" stroke-dasharray="4.17 4.17"/>
<path class="cv" d="M727.92 974.11L730.56 978.41L732.97 982.5L735.39 986.74L738.41 992.25L743.85 1002.7L749.28 1013.78L754.72 1025.41L760.76 1038.86L766.8 1052.72L780.09 1083.63L786.73 1098.61L790.35 1106.43L793.98 1113.91L797.6 1120.97L800.62 1126.47L803.04 1130.6L804.85 1133.52L806.66 1136.3L808.47 1138.92L810.29 1141.39L812.1 1143.7L813.91 1145.86L816.33 1148.5L818.14 1150.3L819.95 1151.96L821.76 1153.48L824.18 1155.3L825.99 1156.53L828.41 1157.98L830.82 1159.25L833.24 1160.35L836.86 1161.73L838.67 1162.31L841.09 1162.98L845.32 1163.94L850.15 1164.74L855.59 1165.38L861.63 1165.85L868.87 1166.2L877.33 1166.42L891.83 1166.58L915.99 1166.64L1174.8 1166.65" stroke="#7E2F8E" stroke-dasharray="16.67 4.17 8.33 4.17"/>
</g>
<path class="ax" d="M767.26 1237.5v-2.55M767.26 933.4v2.55M793.85 1237.5v-2.55M793.85 933.4v2.55M812.71 1237.5v-2.55M812.71 933.4v2.55M827.34 1237.5v-2.55M827.34 933.4v2.55M839.3 1237.5v-2.55M839.3 933.4v2.55M849.41 1237.5v-2.55M849.41 933.4v2.55M858.17 1237.5v-2.55M858.17 933.4v2.55M865.89 1237.5v-2.55M865.89 933.4v2.55M872.8 1237.5v-4.6M872.8 933.4v4.6M918.26 1237.5v-2.55M918.26 933.4v2.55M944.85 1237.5v-2.55M944.85 933.4v2.55M963.71 1237.5v-2.55M963.71 933.4v2.55M978.34 1237.5v-2.55M978.34 933.4v2.55M990.3 1237.5v-2.55M990.3 933.4v2.55M1000.41 1237.5v-2.55M1000.41 933.4v2.55M1009.17 1237.5v-2.55M1009.17 933.4v2.55M1016.89 1237.5v-2.55M1016.89 933.4v2.55M1023.8 1237.5v-4.6M1023.8 933.4v4.6M1069.26 1237.5v-2.55M1069.26 933.4v2.55M1095.85 1237.5v-2.55M1095.85 933.4v2.55M1114.71 1237.5v-2.55M1114.71 933.4v2.55M1129.34 1237.5v-2.55M1129.34 933.4v2.55M1141.3 1237.5v-2.55M1141.3 933.4v2.55M1151.41 1237.5v-2.55M1151.41 933.4v2.55M1160.17 1237.5v-2.55M1160.17 933.4v2.55M1167.89 1237.5v-2.55M1167.89 933.4v2.55M721.8 1206.99h3.1M1174.8 1206.99h-2.55M721.8 1189.14h3.1M1174.8 1189.14h-2.55M721.8 1176.47h3.1M1174.8 1176.47h-2.55M721.8 1166.65h3.1M1174.8 1166.65h-2.55M721.8 1158.62h3.1M1174.8 1158.62h-2.55M721.8 1151.84h3.1M1174.8 1151.84h-2.55M721.8 1145.96h3.1M1174.8 1145.96h-2.55M721.8 1140.77h3.1M1174.8 1140.77h-2.55M721.8 1136.13h5.15M1174.8 1136.13h-4.6M721.8 1105.62h3.1M1174.8 1105.62h-2.55M721.8 1087.77h3.1M1174.8 1087.77h-2.55M721.8 1075.1h3.1M1174.8 1075.1h-2.55M721.8 1065.28h3.1M1174.8 1065.28h-2.55M721.8 1057.25h3.1M1174.8 1057.25h-2.55M721.8 1050.47h3.1M1174.8 1050.47h-2.55M721.8 1044.59h3.1M1174.8 1044.59h-2.55M721.8 1039.4h3.1M1174.8 1039.4h-2.55M721.8 1034.77h5.15M1174.8 1034.77h-4.6M721.8 1004.25h3.1M1174.8 1004.25h-2.55M721.8 986.4h3.1M1174.8 986.4h-2.55M721.8 973.74h3.1M1174.8 973.74h-2.55M721.8 963.91h3.1M1174.8 963.91h-2.55M721.8 955.89h3.1M1174.8 955.89h-2.55M721.8 949.1h3.1M1174.8 949.1h-2.55M721.8 943.22h3.1M1174.8 943.22h-2.55M721.8 938.04h3.1M1174.8 938.04h-2.55"/>
<rect class="ax" x="721.8" y="933.4" width="453" height="304.1"/>
<text class="tk" transform="translate(722.1 1293.4) scale(1 1.05)" text-anchor="middle">10<tspan class="sp" dy="-16">0</tspan></text>
<text class="tk" transform="translate(873.1 1293.4) scale(1 1.05)" text-anchor="middle">10<tspan class="sp" dy="-16">1</tspan></text>
<text class="tk" transform="translate(1024.1 1293.4) scale(1 1.05)" text-anchor="middle">10<tspan class="sp" dy="-16">2</tspan></text>
<text class="tk" transform="translate(1175.1 1293.4) scale(1 1.05)" text-anchor="middle">10<tspan class="sp" dy="-16">3</tspan></text>
<text class="tk" transform="translate(707.9 952.7) scale(1 1.05)" text-anchor="end">10<tspan class="sp" dy="-16">-1</tspan></text>
<text class="tk" transform="translate(707.9 1054.07) scale(1 1.05)" text-anchor="end">10<tspan class="sp" dy="-16">-2</tspan></text>
<text class="tk" transform="translate(707.9 1155.43) scale(1 1.05)" text-anchor="end">10<tspan class="sp" dy="-16">-3</tspan></text>
<text class="tk" transform="translate(707.9 1256.8) scale(1 1.05)" text-anchor="end">10<tspan class="sp" dy="-16">-4</tspan></text>
<text class="lb" transform="translate(947.7 1338.6) scale(1 1.1)" text-anchor="middle">t</text>
<text class="lb" transform="translate(632 1084.45) rotate(-90)" text-anchor="middle">P(t)</text>
<text class="pn" x="1134" y="984.1" text-anchor="middle">(f)</text>
</svg></body></html>
